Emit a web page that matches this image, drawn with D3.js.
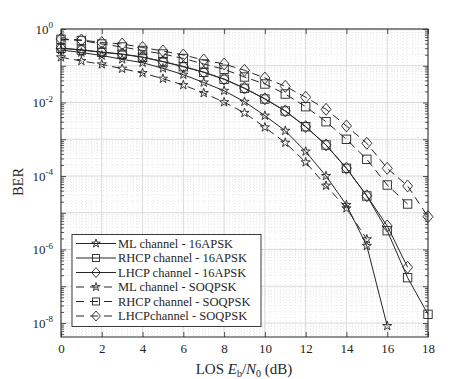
<!DOCTYPE html>
<html><head><meta charset="utf-8">
<script src="https://cdn.jsdelivr.net/npm/d3@7"></script>
<style>
html,body{margin:0;padding:0;background:#fff;}
svg{display:block;}
text{font-family:"Liberation Serif","Times New Roman",serif;fill:#262626;}
</style></head>
<body>
<svg id="chart" width="474" height="379"></svg>
<script>
// ---------------- data ----------------
const snrDb = [0,1,2,3,4,5,6,7,8,9,10,11,12,13,14,15,16,17,18];
const xTicks = [0,2,4,6,8,10,12,14,16,18];
const yTickExps = [0,-2,-4,-6,-8];

const berML16 = [0.268,0.229,0.190,0.150,0.121,0.0852,0.0571,0.035,0.0208,0.0105,0.00438,0.0017,4.64e-4,1.0e-4,1.63e-5,1.25e-6,8.3e-9];
const berRHCP16 = [0.298,0.268,0.232,0.205,0.170,0.129,0.0942,0.0663,0.0428,0.0243,0.01245,0.00587,0.00219,6.98e-4,1.62e-4,2.86e-5,3.25e-6,1.71e-7,1.72e-8];
const berLHCP16 = [0.302,0.271,0.236,0.208,0.173,0.131,0.0955,0.0672,0.0434,0.0246,0.0126,0.0059,0.0022,7.0e-4,1.63e-4,2.9e-5,4.36e-6,3.28e-7];
const berMLSO = [0.170,0.135,0.1095,0.0831,0.0635,0.0444,0.0299,0.0181,0.0102,0.00521,0.00211,8.05e-4,2.36e-4,5.45e-5,1.32e-5,1.9e-6];
const berRHCPSO = [0.525,0.486,0.391,0.324,0.260,0.209,0.158,0.1116,0.080,0.0494,0.0319,0.0170,0.00769,0.0030,9.97e-4,2.85e-4,5.69e-5,1.73e-5];
const berLHCPSO = [0.535,0.502,0.429,0.391,0.314,0.252,0.196,0.1434,0.1116,0.0752,0.0464,0.0276,0.0139,0.00653,0.0023,7.76e-4,1.62e-4,5.35e-5,7.81e-6];

const seriesNames = ["ML channel - 16APSK","RHCP channel - 16APSK","LHCP channel - 16APSK",
  "ML channel - SOQPSK","RHCP channel - SOQPSK","LHCPchannel - SOQPSK"];
const seriesValues = [berML16,berRHCP16,berLHCP16,berMLSO,berRHCPSO,berLHCPSO];
const seriesMarker = ["star","square","diamond","star","square","diamond"];
const seriesDashed = [false,false,false,true,true,true];

// ---------------- layout ----------------
const svg = d3.select("#chart");
const L = 61, R = 428, T = 29, B = 337;
const x = d3.scaleLinear().domain([0,18]).range([L,R]);
const y = d3.scaleLog().domain([4.16e-9,1]).range([B,T]);
const ink = "#262626";

// grid
const grid = svg.append("g");
const xMinor = d3.range(0,18.001,0.25).filter(v => Math.abs(v/2 - Math.round(v/2))>1e-6);
grid.selectAll(".xm").data(xMinor).enter().append("line")
  .attr("x1",d=>x(d)).attr("x2",d=>x(d)).attr("y1",T).attr("y2",B)
  .attr("stroke","#e2e2e2").attr("stroke-width",0.8).attr("stroke-dasharray","1,2");
const yMinor = [];
for (let e=-9; e<0; e++) for (let m=2; m<=9; m++){ const v=m*Math.pow(10,e); if (v>=4.16e-9 && v<1) yMinor.push(v); }
grid.selectAll(".ym").data(yMinor).enter().append("line")
  .attr("x1",L).attr("x2",R).attr("y1",d=>y(d)).attr("y2",d=>y(d))
  .attr("stroke","#e2e2e2").attr("stroke-width",0.8).attr("stroke-dasharray","1,2");
grid.selectAll(".xM").data(xTicks).enter().append("line")
  .attr("x1",d=>x(d)).attr("x2",d=>x(d)).attr("y1",T).attr("y2",B)
  .attr("stroke","#dadada").attr("stroke-width",1);
const yMajor = [1,1e-1,1e-2,1e-3,1e-4,1e-5,1e-6,1e-7,1e-8];
grid.selectAll(".yM").data(yMajor).enter().append("line")
  .attr("x1",L).attr("x2",R).attr("y1",d=>y(d)).attr("y2",d=>y(d))
  .attr("stroke","#dadada").attr("stroke-width",1);

// axes (box with inward ticks)
const axB = d3.axisBottom(x).tickValues(xTicks).tickSizeInner(-5).tickSizeOuter(0).tickPadding(7).tickFormat(d3.format("d"));
const axT = d3.axisTop(x).tickValues(xTicks).tickSizeInner(-5).tickSizeOuter(0).tickFormat("");
const gB = svg.append("g").attr("transform",`translate(0,${B})`).call(axB);
svg.append("g").attr("transform",`translate(0,${T})`).call(axT);
const axLft = d3.axisLeft(y).tickValues(yMajor).tickSizeInner(-5).tickSizeOuter(0).tickFormat("");
const axRgt = d3.axisRight(y).tickValues(yMajor).tickSizeInner(-5).tickSizeOuter(0).tickFormat("");
svg.append("g").attr("transform",`translate(${L},0)`).call(axLft);
svg.append("g").attr("transform",`translate(${R},0)`).call(axRgt);
const axLm = d3.axisLeft(y).tickValues(yMinor).tickSizeInner(-3).tickSizeOuter(0).tickFormat("");
const axRm = d3.axisRight(y).tickValues(yMinor).tickSizeInner(-3).tickSizeOuter(0).tickFormat("");
svg.append("g").attr("transform",`translate(${L},0)`).call(axLm);
svg.append("g").attr("transform",`translate(${R},0)`).call(axRm);
svg.selectAll(".domain").remove();
svg.selectAll(".tick line").attr("stroke",ink).attr("stroke-width",0.8);
gB.selectAll("text").attr("font-size",13).attr("fill",ink)
  .style("font-family",'"Liberation Serif",serif');
svg.append("rect").attr("x",L).attr("y",T).attr("width",R-L).attr("height",B-T)
  .attr("fill","none").attr("stroke",ink).attr("stroke-width",1);

// y tick labels 10^k
const yl = svg.append("g");
yTickExps.forEach(k=>{
  const t = yl.append("text").attr("x",L-8).attr("y",y(Math.pow(10,k))+4.5)
    .attr("text-anchor","end").attr("font-size",13);
  t.append("tspan").text("10");
  t.append("tspan").attr("font-size",9).attr("dy",-5.5).text(k===0?"0":"-"+(-k));
});

// axis titles
const xl = svg.append("text").attr("x",244).attr("y",374).attr("text-anchor","middle").attr("font-size",15);
xl.append("tspan").text("LOS ");
xl.append("tspan").attr("font-style","italic").text("E");
xl.append("tspan").attr("font-size",10).attr("dy",3).text("b");
xl.append("tspan").attr("dy",-3).text("/");
xl.append("tspan").attr("font-style","italic").text("N");
xl.append("tspan").attr("font-size",10).attr("dy",3).text("0");
xl.append("tspan").attr("dy",-3).text(" (dB)");
svg.append("text").attr("transform","translate(23,182) rotate(-90)").attr("text-anchor","middle")
  .attr("font-size",14.5).text("BER");

// markers
const starPath = d3.symbol().type(d3.symbolStar).size(26)();
const starPathLeg = d3.symbol().type(d3.symbolStar).size(22)();
function drawMarker(g, type, cx, cy, leg){
  if (type==="star") g.append("path").attr("d",leg?starPathLeg:starPath).attr("transform",`translate(${cx},${cy})`);
  else if (type==="square") { const h = leg?3.5:4.2; g.append("rect").attr("x",cx-h).attr("y",cy-h).attr("width",2*h).attr("height",2*h); }
  else { const a = leg?5:6, b = leg?4.3:5; g.append("path").attr("d",`M${cx},${cy-a}L${cx+b},${cy}L${cx},${cy+a}L${cx-b},${cy}Z`); }
}

const line = d3.line().x((d,i)=>x(snrDb[i])).y(d=>y(d));
const plot = svg.append("g");
seriesValues.forEach((vals,si)=>{
  plot.append("path").attr("d",line(vals)).attr("fill","none").attr("stroke",ink)
    .attr("stroke-width",1).attr("stroke-dasharray",seriesDashed[si]?"8,5":null);
  const mg = plot.append("g").attr("fill","none").attr("stroke",ink).attr("stroke-width",0.9);
  vals.forEach((v,i)=>drawMarker(mg, seriesMarker[si], x(snrDb[i]), y(v), false));
});

// legend
const lg = svg.append("g");
lg.append("rect").attr("x",72).attr("y",234.5).attr("width",189).attr("height",92)
  .attr("fill","#fff").attr("stroke",ink).attr("stroke-width",0.9);
seriesNames.forEach((name,i)=>{
  const cy = 243.5 + i*14.5;
  lg.append("line").attr("x1",76).attr("x2",116).attr("y1",cy).attr("y2",cy)
    .attr("stroke",ink).attr("stroke-width",1).attr("stroke-dasharray",seriesDashed[i]?"8,6":null);
  const mg = lg.append("g").attr("fill","none").attr("stroke",ink).attr("stroke-width",0.9);
  drawMarker(mg, seriesMarker[i], 96, cy, true);
  lg.append("text").attr("x",118).attr("y",cy+4.3).attr("font-size",12.5).text(name);
});
</script>
</body></html>
